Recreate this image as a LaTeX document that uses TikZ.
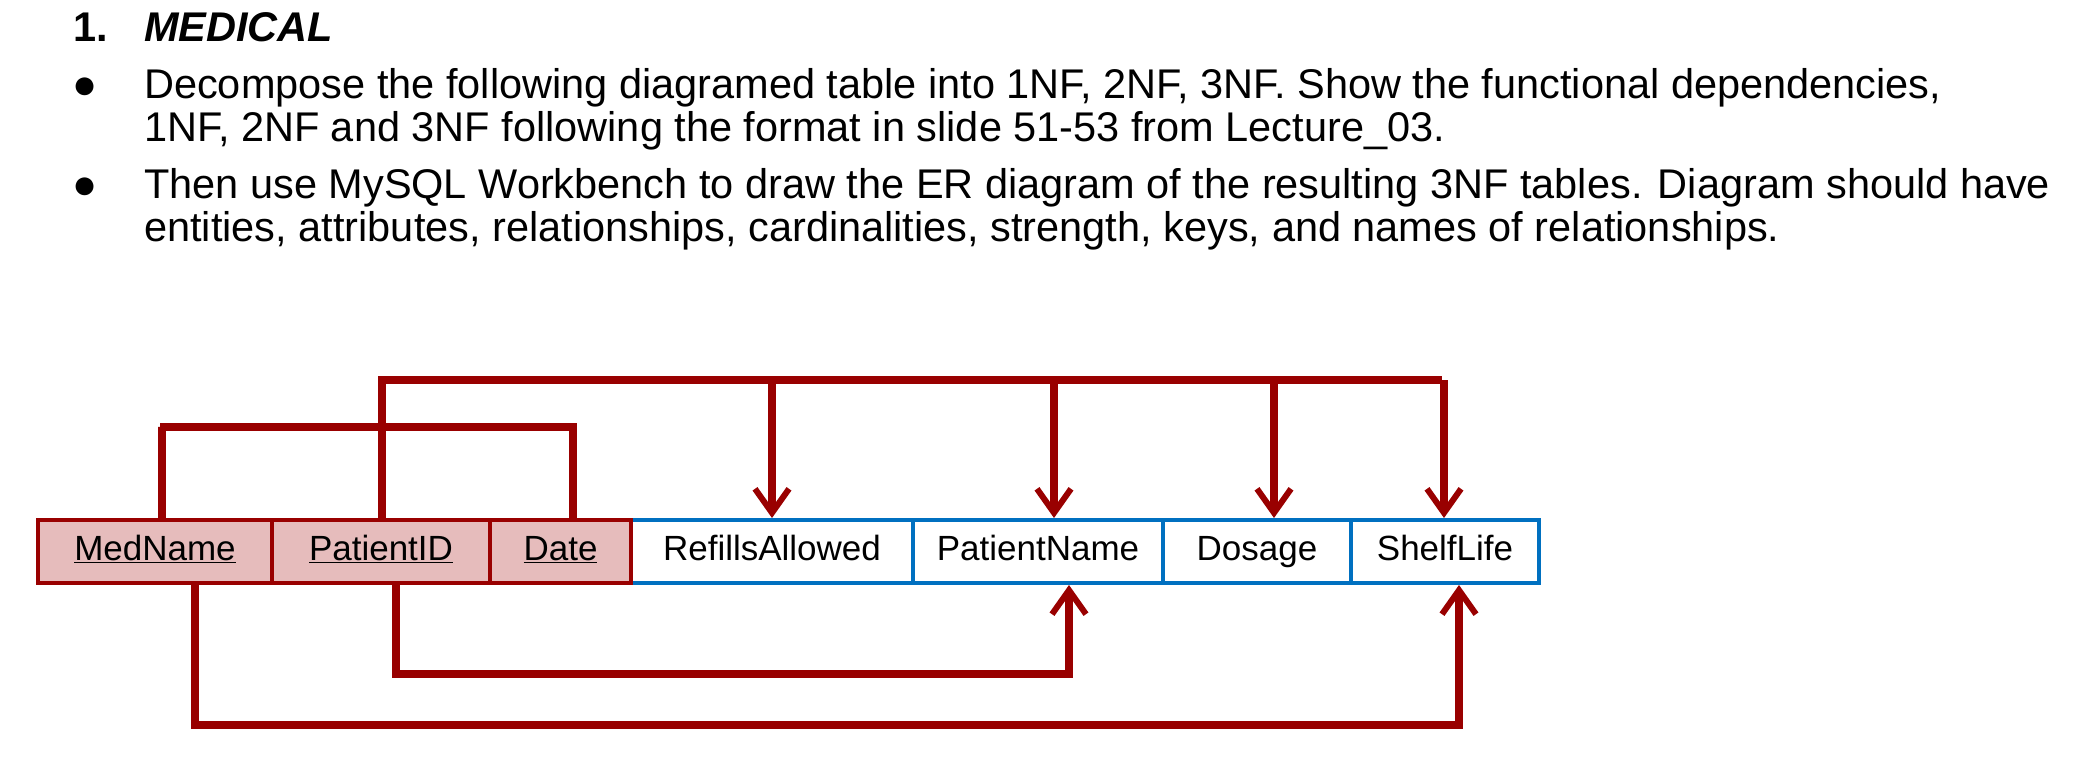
\documentclass[tikz,border=0pt]{standalone}
\usepackage{fontspec}
\setmainfont{Liberation Sans}
\usetikzlibrary{arrows.meta}
\definecolor{dred}{HTML}{990000}
\definecolor{pinkf}{HTML}{E6BCBC}
\definecolor{bl}{HTML}{0070C0}
\begin{document}
\begin{tikzpicture}[x=1pt,y=-1pt,
  cellbase/.style={line width=4pt,anchor=north west,minimum height=63pt,inner sep=0pt,text height=25pt,text depth=7pt,font=\fontsize{35}{35}\selectfont},
  keycell/.style={cellbase,draw=dred,fill=pinkf},
  attcell/.style={cellbase,draw=bl,fill=white},
  dep/.style={draw=dred,line width=8pt},
  deparr/.style={dep,-{Straight Barb[length=24pt,width=34pt,line width=6pt]}},
  txt/.style={anchor=base west,inner sep=0pt,font=\fontsize{41.5}{41.5}\selectfont}]
\useasboundingbox (0,0) rectangle (2094,762);
\node[txt,font=\fontsize{41.5}{41.5}\selectfont\bfseries] (h1) at (73,42) {1.};
\node[txt,font=\fontsize{41.5}{41.5}\selectfont\bfseries\itshape] (h) at (144,42) {MEDICAL};
\node[txt] (b1) at (72,99) {●};
\node[txt] (l1) at (144,99) {Decompose the following diagramed table into 1NF, 2NF, 3NF. Show the functional dependencies,};
\node[txt] (l2) at (144,142) {1NF, 2NF and 3NF following the format in slide 51-53 from Lecture\_03.};
\node[txt] (b2) at (72,199) {●};
\node[txt] (l3) at (144,199) {Then use MySQL Workbench to draw the ER diagram of the resulting 3NF tables. Diagram should have};
\node[txt] (l4) at (144,242) {entities, attributes, relationships, cardinalities, strength, keys, and names of relationships.};
% table
\node[attcell,minimum width=282pt] (ra) at (629,518) {RefillsAllowed};
\node[attcell,minimum width=250pt] (pn) at (911,518) {PatientName};
\node[attcell,minimum width=188pt] (ds) at (1161,518) {Dosage};
\node[attcell,minimum width=188pt] (sl) at (1349,518) {ShelfLife};
\node[keycell,minimum width=234pt] (mn) at (36,518) {\underline{MedName}};
\node[keycell,minimum width=218pt] (pid) at (270,518) {\underline{PatientID}};
\node[keycell,minimum width=141pt] (dt) at (488,518) {\underline{Date}};
% coordinates
\coordinate (t2) at (160,427);
\coordinate (t1e) at (1442,380);
% top dependencies
\draw[dep] ([xshift=7pt]mn.north) |- (t2) -| ([xshift=12pt]dt.north);
\draw[dep] ([xshift=1pt]pid.north) |- (t1e);
\draw[deparr] (ra.north |- t1e) -- (ra.north);
\draw[deparr] ([xshift=16pt]pn.north |- t1e) -- ([xshift=16pt]pn.north);
\draw[deparr] ([xshift=17pt]ds.north |- t1e) -- ([xshift=17pt]ds.north);
\draw[deparr] ([xshift=-1pt]sl.north |- t1e) -- ([xshift=-1pt]sl.north);
% bottom dependencies
\coordinate (u1) at (1069,674);
\coordinate (u2) at (1459,725);
\draw[deparr] ([xshift=15pt]pid.south) |- (u1) -- (pn.south -| u1);
\draw[deparr] ([xshift=40pt]mn.south) |- (u2) -- (sl.south -| u2);
\end{tikzpicture}
\end{document}
